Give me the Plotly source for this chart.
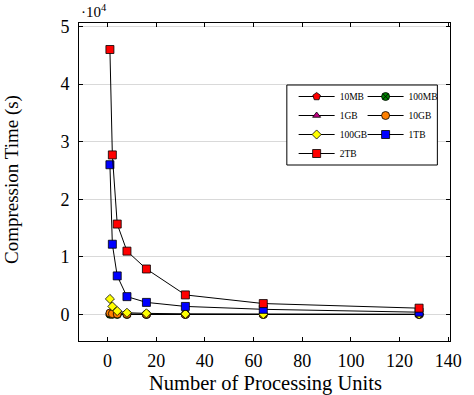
import plotly.graph_objects as go

# ---- data ----
units = [1, 2, 4, 8, 16, 32, 64, 128]
series_names = ["10MB", "100MB", "1GB", "10GB", "100GB", "1TB", "2TB"]
t_10MB = [10, 6, 4, 3, 2, 2, 1, 1]
t_100MB = [60, 35, 20, 12, 8, 6, 5, 4]
t_1GB = [120, 70, 40, 25, 15, 10, 8, 6]
t_10GB = [250, 150, 90, 50, 30, 20, 12, 10]
t_100GB = [2700, 1400, 600, 300, 200, 100, 60, 40]
t_1TB = [26000, 12200, 6700, 3100, 2100, 1400, 900, 400]
t_2TB = [46000, 27700, 15700, 11000, 7900, 3400, 1900, 1100]
y_tickvals = [0, 10000, 20000, 30000, 40000, 50000]
y_ticktext = ["0", "1", "2", "3", "4", "5"]
x_tickvals = [0, 20, 40, 60, 80, 100, 120, 140]

values = [t_10MB, t_100MB, t_1GB, t_10GB, t_100GB, t_1TB, t_2TB]
styles = [
    dict(symbol="pentagon", color="#FF0000", size=8, legend="legend"),
    dict(symbol="circle-x", color="#008000", size=8, legend="legend2"),
    dict(symbol="triangle-up", color="#BF0080", size=7, legend="legend"),
    dict(symbol="circle", color="#FF8000", size=8, legend="legend2"),
    dict(symbol="diamond", color="#FFFF00", size=7, legend="legend"),
    dict(symbol="square", color="#0000FF", size=8, legend="legend2"),
    dict(symbol="square", color="#FF0000", size=8, legend="legend"),
]

FONT = "Liberation Serif"
fig = go.Figure()
for name, vals, st in zip(series_names, values, styles):
    fig.add_trace(go.Scatter(
        x=units, y=vals, name=name, mode="lines+markers",
        legend=st["legend"],
        line=dict(color="black", width=1),
        marker=dict(symbol=st["symbol"], color=st["color"], size=st["size"],
                    line=dict(color="black", width=0.8)),
    ))

W, H = 474, 395
PL, PR, PT, PB = 79, 461, 23, 341  # plot area in pixels
pw, ph = PR - PL, PB - PT


def px(xp):
    return (xp - PL) / pw


def py(yp):
    return (PB - yp) / ph


legend_common = dict(
    orientation="v", xanchor="left", yanchor="top",
    borderwidth=0, bgcolor="rgba(0,0,0,0)", itemwidth=36,
    font=dict(family=FONT, size=9.5), tracegroupgap=0,
)

fig.update_layout(
    width=W, height=H,
    margin=dict(l=PL, r=W - PR, t=PT, b=H - PB),
    paper_bgcolor="white", plot_bgcolor="white",
    font=dict(family=FONT, color="black"),
    showlegend=True,
    legend=dict(x=px(300), y=py(82), **legend_common),
    legend2=dict(x=px(371), y=py(82), **legend_common),
    xaxis=dict(
        range=[-11.7, 140.7], tickvals=x_tickvals,
        showgrid=False, zeroline=False,
        showline=True, linecolor="black", linewidth=1, mirror="ticks",
        ticks="inside", ticklen=4, tickcolor="black",
        tickfont=dict(family=FONT, size=18),
        ticklabelstandoff=3,
    ),
    yaxis=dict(
        range=[-4600, 50600], tickvals=y_tickvals, ticktext=y_ticktext,
        showgrid=True, gridcolor="#d9d9d9", gridwidth=1, zeroline=False,
        showline=True, linecolor="black", linewidth=1, mirror="ticks",
        ticks="inside", ticklen=4, tickcolor="black",
        tickfont=dict(family=FONT, size=18),
        ticklabelstandoff=5,
    ),
    shapes=[
        dict(type="rect", xref="paper", yref="paper",
             x0=px(293), x1=px(448), y0=py(165), y1=py(85),
             line=dict(color="black", width=1), fillcolor="white", layer="above"),
    ],
    annotations=[
        dict(text="Number of Processing Units", xref="paper", yref="paper",
             x=px(271), y=py(383), showarrow=False,
             xanchor="center", yanchor="middle", font=dict(family=FONT, size=20.5)),
        dict(text="Compression Time (s)", xref="paper", yref="paper",
             x=px(10), y=py(179), showarrow=False, textangle=-90,
             xanchor="center", yanchor="middle", font=dict(family=FONT, size=19)),
        dict(text="·10<sup>4</sup>", xref="paper", yref="paper",
             x=px(79), y=py(11), showarrow=False,
             xanchor="left", yanchor="middle", font=dict(family=FONT, size=15)),
    ],
)

fig.write_html("out.html", config={"displayModeBar": False},
               post_script="document.body.style.margin='0px';")
